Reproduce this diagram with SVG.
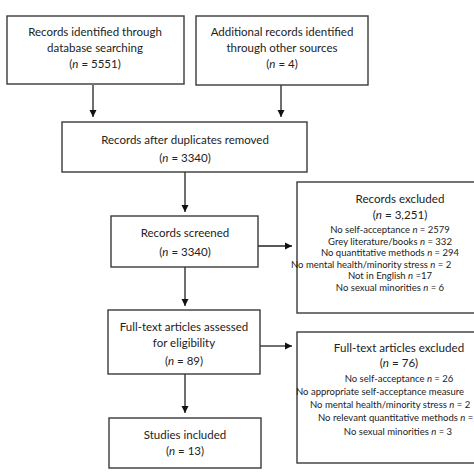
<svg xmlns="http://www.w3.org/2000/svg" width="474" height="474" viewBox="0 0 474 474">
<style>
.box{fill:#fff;stroke:#3a3a3a;stroke-width:1.4}
.t{font-family:Lato,"Liberation Sans",sans-serif;font-size:11.5px;fill:#222;text-anchor:middle}
.h{font-size:11.6px}
.s{font-family:Lato,"Liberation Sans",sans-serif;font-size:9.5px;fill:#222;text-anchor:middle}
.st{text-anchor:start}
.i{font-style:italic}
.c{stroke:#222;stroke-width:1.3;fill:none;marker-end:url(#ah)}
</style>
<defs>
<marker id="ah" viewBox="0 0 8 8" refX="7" refY="4" markerWidth="8" markerHeight="8" markerUnits="userSpaceOnUse" orient="auto">
<path d="M0,0.5 L7,4 L0,7.5 Z" fill="#111"/>
</marker>
</defs>
<rect width="474" height="474" fill="#fff"/>
<g id="connectors">
<line class="c" x1="93" y1="85" x2="93" y2="117"/>
<line class="c" x1="281" y1="85" x2="281" y2="117"/>
<line class="c" x1="185" y1="172" x2="185" y2="212"/>
<line class="c" x1="258" y1="246" x2="292" y2="246"/>
<line class="c" x1="185" y1="267" x2="185" y2="306"/>
<line class="c" x1="260" y1="346" x2="292" y2="346"/>
<line class="c" x1="185" y1="374" x2="185" y2="413"/>
</g>
<g id="n1">
<rect class="box" x="7" y="16" width="177" height="68"/>
<text class="t" x="95" y="36">Records identified through</text>
<text class="t" x="95" y="52">database searching</text>
<text class="t" x="95" y="68">(<tspan class="i">n</tspan> = 5551)</text>
</g>
<g id="n2">
<rect class="box" x="196" y="16" width="172" height="69"/>
<text class="t" x="282" y="36">Additional records identified</text>
<text class="t" x="282" y="52">through other sources</text>
<text class="t" x="282" y="68">(<tspan class="i">n</tspan> = 4)</text>
</g>
<g id="n3">
<rect class="box" x="62" y="122" width="245" height="50"/>
<text class="t" x="185" y="144">Records after duplicates removed</text>
<text class="t" x="185" y="162">(<tspan class="i">n</tspan> = 3340)</text>
</g>
<g id="n4">
<rect class="box" x="111" y="216" width="147" height="51"/>
<text class="t" x="185" y="237">Records screened</text>
<text class="t" x="185" y="256">(<tspan class="i">n</tspan> = 3340)</text>
</g>
<g id="n5">
<rect class="box" x="297" y="182" width="200" height="131"/>
<text class="t h" x="400" y="203">Records excluded</text>
<text class="t h" x="400" y="219">(<tspan class="i">n</tspan> = 3,251)</text>
<text class="s" x="390" y="233">No self-acceptance <tspan class="i">n</tspan> = 2579</text>
<text class="s" x="390" y="244.5">Grey literature/books <tspan class="i">n</tspan> = 332</text>
<text class="s" x="390" y="256">No quantitative methods <tspan class="i">n</tspan> = 294</text>
<text class="s st" x="291" y="267.5">No mental health/minority stress <tspan class="i">n</tspan> = 2</text>
<text class="s" x="390" y="279">Not in English <tspan class="i">n</tspan> =17</text>
<text class="s" x="390" y="290.5">No sexual minorities <tspan class="i">n</tspan> = 6</text>
</g>
<g id="n6">
<rect class="box" x="108" y="310" width="152" height="64"/>
<text class="t" x="184" y="331">Full-text articles assessed</text>
<text class="t" x="184" y="347">for eligibility</text>
<text class="t" x="184" y="365">(<tspan class="i">n</tspan> = 89)</text>
</g>
<g id="n7">
<rect class="box" x="297" y="332" width="200" height="131"/>
<text class="t h" x="399" y="352">Full-text articles excluded</text>
<text class="t h" x="399" y="367">(<tspan class="i">n</tspan> = 76)</text>
<text class="s" x="399" y="382">No self-acceptance <tspan class="i">n</tspan> = 26</text>
<text class="s st" x="296" y="395">No appropriate self-acceptance measure</text>
<text class="s st" x="310" y="408">No mental health/minority stress <tspan class="i">n</tspan> = 2</text>
<text class="s st" x="318" y="421">No relevant quantitative methods <tspan class="i">n</tspan> =</text>
<text class="s" x="398" y="435">No sexual minorities <tspan class="i">n</tspan> = 3</text>
</g>
<g id="n8">
<rect class="box" x="109" y="418" width="152" height="50"/>
<text class="t" x="185" y="439">Studies included</text>
<text class="t" x="185" y="455">(<tspan class="i">n</tspan> = 13)</text>
</g>
</svg>
